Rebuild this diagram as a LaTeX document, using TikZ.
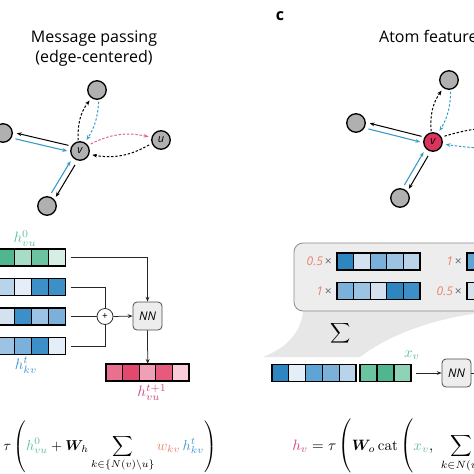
\documentclass[tikz,border=0pt]{standalone}
\usepackage{amsmath,amssymb}
\usepackage{fontspec}
\newfontfamily\osans{Open Sans}
\usetikzlibrary{arrows.meta,calc}
\definecolor{nodegray}{HTML}{B0B0B0}
\definecolor{eblue}{HTML}{3A9BC8}
\definecolor{epink}{HTML}{E0608A}
\definecolor{vred}{HTML}{D9345E}
\definecolor{hgreen}{HTML}{5FBF9C}
\definecolor{hblue}{HTML}{3F97CF}
\definecolor{hpink}{HTML}{C94785}
\definecolor{worange}{HTML}{E8836A}
\definecolor{boxgray}{HTML}{EDEDED}
\definecolor{funnelgray}{HTML}{E7E7E7}
\definecolor{bA}{HTML}{2E86C1}
\definecolor{bB}{HTML}{3D8FC8}
\definecolor{bC}{HTML}{5EA5D5}
\definecolor{bD}{HTML}{7AB0D9}
\definecolor{bE}{HTML}{9DC3E4}
\definecolor{bF}{HTML}{B9D3EA}
\definecolor{bG}{HTML}{D4E2EF}
\definecolor{bH}{HTML}{E3EEF8}
\definecolor{gA}{HTML}{4FB68F}
\definecolor{gB}{HTML}{6CC3A0}
\definecolor{gC}{HTML}{8FD2B5}
\definecolor{gD}{HTML}{A8DCC6}
\definecolor{gE}{HTML}{D6EFE5}
\definecolor{pA}{HTML}{E2496F}
\definecolor{pB}{HTML}{E55A7D}
\definecolor{pC}{HTML}{E9718F}
\definecolor{pD}{HTML}{F0A0B6}
\definecolor{pE}{HTML}{F8CDD8}
\tikzset{
  atom/.style={circle, draw=black, line width=1.3pt, fill=nodegray, minimum size=18.5pt,
    inner sep=0pt, font=\osans\itshape\fontsize{11}{11}\selectfont},
  tipa/.style={-{Stealth[length=4.8pt,width=3.8pt]}},
  solblk/.style={tipa, line width=1pt, black},
  solblu/.style={tipa, line width=1.1pt, eblue},
  dshblk/.style={tipa, line width=1pt, black, dash pattern=on 2.4pt off 1.8pt},
  dshblu/.style={tipa, line width=1pt, eblue, dash pattern=on 2.4pt off 1.8pt},
  dshpnk/.style={tipa, line width=1pt, epink, dash pattern=on 2.4pt off 1.8pt},
  cellsty/.style={draw=black, line width=1.1pt},
  nnbox/.style={draw=black!70, fill=boxgray, rounded corners=4pt, line width=0.8pt,
    minimum width=29pt, minimum height=28pt, inner sep=0pt,
    font=\osans\itshape\fontsize{12}{12}\selectfont},
  wire/.style={line width=0.75pt, black!85},
  title/.style={font=\osans\fontsize{16}{20}\selectfont, inner sep=0pt},
  mult/.style={font=\osans\fontsize{12}{12}\selectfont, inner sep=0pt, anchor=east},
  mlabel/.style={inner sep=0pt, scale=1.5},
}
% name, x-left, y-centre, cell width, number of cells, colours
\newcommand\featbar[6]{%
  \node[inner sep=0pt, minimum width={#4*#5*1pt}, minimum height=17pt, anchor=west] (#1) at (#2,#3) {};
  \foreach \c [count=\i from 0] in {#6} {%
    \filldraw[cellsty, fill=\c] ({#2+\i*#4},{#3-8.5}) rectangle ++(#4,17);}%
}
\begin{document}
\begin{tikzpicture}[x=1pt,y=-1pt]
\useasboundingbox (0,0) rectangle (474,474);
\clip (0,0) rectangle (474,474);

% ---------- titles ----------
\node[title, anchor=base] (t1) at (94,42) {Message passing};
\node[title, anchor=base] (t2) at (94,62) {(edge-centered)};
\node[font=\osans\bfseries\fontsize{16}{16}\selectfont, inner sep=0pt, anchor=base] (lc) at (280,20) {c};
\node[title, anchor=base west] (t3) at (379,42) {Atom feature};

% ---------- left graph ----------
\node[atom] (v) at (80,151) {v};
\node[atom] (u) at (161,140) {u};
\node[atom] (T) at (97,90) {};
\node[atom] (L) at (3,133) {};
\node[atom] (B) at (47,206) {};

\draw[solblk, shorten <=3pt, shorten >=4pt] (v.150) -- (L.4);
\draw[solblu, shorten <=4pt, shorten >=3pt] (L.-30) -- (v.184);
\draw[solblu, shorten <=4pt, shorten >=4pt] (B.76) -- (v.222);
\draw[solblk, shorten <=5pt, shorten >=3pt] (v.256) -- (B.42);
\draw[dshblk, shorten <=1pt, shorten >=3pt] (v.100) to[bend left=20] (T.235);
\draw[dshblu, shorten <=2pt, shorten >=3pt] (T.280) to[bend left=15] (v.60);
\draw[dshpnk, shorten <=3pt, shorten >=3pt] (v.35) to[bend left=20] (u.165);
\draw[dshblk, shorten <=3pt, shorten >=3pt] (u.200) to[bend left=20] (v.-20);

% ---------- right graph ----------
\node[atom, fill=vred] (rv) at (433,142) {v};
\node[atom] (rT) at (449,80) {};
\node[atom] (rL) at (356,123) {};
\node[atom] (rB) at (400,198) {};
\coordinate (ru1) at (520,128);
\coordinate (ru2) at (520,148);

\draw[solblk, shorten <=3pt, shorten >=4pt] (rv.150) -- (rL.4);
\draw[solblu, shorten <=4pt, shorten >=3pt] (rL.-30) -- (rv.184);
\draw[solblu, shorten <=4pt, shorten >=4pt] (rB.76) -- (rv.222);
\draw[solblk, shorten <=5pt, shorten >=3pt] (rv.256) -- (rB.42);
\draw[dshblk, shorten <=1pt, shorten >=3pt] (rv.100) to[bend left=20] (rT.235);
\draw[dshblu, shorten <=2pt, shorten >=3pt] (rT.280) to[bend left=15] (rv.60);
\draw[dshblk, shorten <=3pt] (rv.30) to[bend left=10] (ru1);
\draw[dshblu, shorten >=3pt] (ru2) to[bend left=5] (rv.-12);

% ---------- left lower: feature bars ----------
\featbar{bar1}{-19.5}{257.5}{17}{5}{gB,gA,gD,gB,gE}
\featbar{bar2}{-19.5}{287}{17}{5}{bE,bF,bH,bB,bB}
\featbar{bar3}{-19.5}{316.5}{17}{5}{bD,bG,bB,bE,bD}
\featbar{bar4}{-19.5}{346}{17}{5}{bF,bE,bD,bB,bH}
\node[mlabel, anchor=south] (lh0) at (25,247) {$\color{hgreen}h^{0}_{vu}$};
\node[mlabel, anchor=north] (lht) at (26,357) {$\color{hblue}h^{t}_{kv}$};

\node[circle, draw=black!80, fill=white, line width=0.8pt, minimum size=16pt, inner sep=0pt,
      font=\osans\fontsize{10}{10}\selectfont] (plus) at (105,316.5) {+};
\node[nnbox] (nnL) at (147.5,316) {NN};
\featbar{outbar}{106}{372.5}{16.6}{5}{pC,pA,pD,pB,pE}
\node[mlabel, anchor=north] (lout) at (152,384) {$\color{hpink}h^{t+1}_{vu}$};

\draw[wire, tipa, shorten <=5pt] (bar1.east) -| (nnL.north);
\draw[wire, shorten <=5pt] (bar2.east) -| (plus.north);
\draw[wire, shorten <=5pt] (bar3.east) -- (plus.west);
\draw[wire, shorten <=5pt] (bar4.east) -| (plus.south);
\draw[wire, tipa] (plus.east) -- (nnL.west);
\draw[wire, tipa] (nnL.south) -- (outbar.north);

% ---------- right lower ----------
\fill[funnelgray] (304,305) .. controls (302,335) and (285,348) .. (263,357)
   -- (360,357) .. controls (385,338) and (425,320) .. (480,313) -- (480,305) -- cycle;
\filldraw[draw=black!45, fill=boxgray, rounded corners=9pt, line width=0.8pt] (294,243) rectangle (520,311);
\node[mult] (m1) at (332,261.5) {{\color{worange}\itshape 0.5}\,{\color{black!60}×}};
\node[mult] (m2) at (332,291) {{\color{worange}\itshape 1}\,{\color{black!60}×}};
\node[mult] (m3) at (462,261.5) {{\color{worange}\itshape 1}\,{\color{black!60}×}};
\node[mult] (m4) at (462,291) {{\color{worange}\itshape 0.5}\,{\color{black!60}×}};
\featbar{kb1}{337}{261.5}{16.6}{5}{bA,bG,bD,bE,bF}
\featbar{kb2}{337}{291}{16.6}{5}{bD,bE,bG,bA,bB}
\featbar{kb3}{467}{261.5}{16.6}{2}{bC,bE}
\featbar{kb4}{467}{291}{16.6}{2}{bG,bD}
\node[inner sep=0pt, scale=1.4] (sig) at (341,333) {$\displaystyle\sum$};

\featbar{sbar}{272}{373}{16.8}{5}{bA,bH,bC,bD,bF}
\featbar{gbar}{360}{373}{17}{3}{gB,gA,gC}
\node[mlabel] (xv) at (412,355) {$\color{hgreen}x_v$};
\node[nnbox] (nnR) at (456.5,373) {NN};
\coordinate (outR) at (490,373);
\draw[wire, tipa, shorten <=5pt] (gbar.east) -- (nnR.west);
\draw[wire] (nnR.east) -- (outR);

% ---------- formulas ----------
\node[anchor=base west, inner sep=0pt, scale=1.43] (fL) at (3,450)
  {$\displaystyle \tau\left({\color{hgreen}h^{0}_{vu}} + \boldsymbol{W}_{\!h}
    \sum_{k\in\{N(v)\setminus u\}} {\color{worange}w_{kv}}\,{\color{hblue}h^{t}_{kv}}\right)$};
\node[anchor=base west, inner sep=0pt, scale=1.5] (fR) at (292,450)
  {$\displaystyle {\color{hpink}h_v} = \tau\left(\boldsymbol{W}_{\!o}\,\mathrm{cat}\left({\color{hgreen}x_v},\ 
    \sum_{k\in N(v)}\right.\right.$};
\end{tikzpicture}
\end{document}
